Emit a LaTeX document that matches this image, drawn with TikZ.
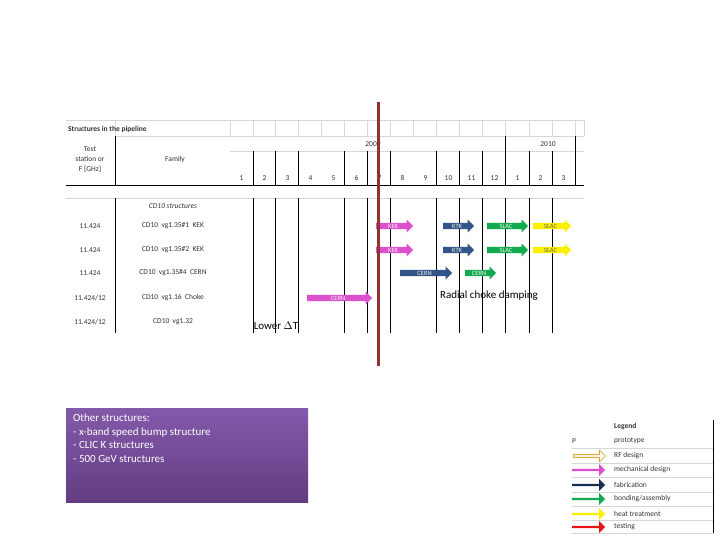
\documentclass[tikz,border=0pt]{standalone}
\usepackage{fontspec}
\setmainfont{Carlito}
\usetikzlibrary{shapes.arrows}
\definecolor{cpink}{RGB}{220,80,205}
\definecolor{cblue}{RGB}{50,85,135}
\definecolor{cnavy}{RGB}{25,45,85}
\definecolor{cgreen}{RGB}{20,170,80}
\definecolor{cyel}{RGB}{250,240,0}
\definecolor{cred}{RGB}{230,20,20}
\definecolor{corange}{RGB}{220,170,60}
\definecolor{cbar}{RGB}{145,50,50}
\definecolor{cgrid}{RGB}{215,215,215}
\begin{document}
\begin{tikzpicture}[x=1pt,y=-1pt,
  tt/.style={font=\fontsize{7.5}{8}\selectfont,text=black!80,inner sep=0pt},
  arr/.style={single arrow,single arrow head extend=3pt,minimum width=13pt,inner sep=0.5pt,
    font=\fontsize{6.5}{7}\selectfont,text=white!90!gray,anchor=west,single arrow head indent=0pt},
  lg/.style={font=\fontsize{7.5}{8}\selectfont,text=black!80,anchor=west,inner sep=0pt}]
\useasboundingbox (0,0) rectangle (720,540);
% header grid
\foreach \x in {115,230,253,275,298,321,344,367,390,413,436,459,482,505,529,552,575,584}
  \draw[cgrid] (\x,120) -- (\x,136);
\draw[cgrid] (66,120) -- (584,120);
\draw[cgrid] (115,136) -- (584,136);
\draw[cgrid] (66,198) -- (584,198);
\draw[cgrid] (230,151) -- (584,151);
\draw (115,136) -- (115,185);
\draw (505,136) -- (505,185);
\draw (575,136) -- (575,185);
\foreach \x in {253,275,298,344,367,390,436,459,482,529,552}
  \draw (\x,151) -- (\x,185);
\draw[thick] (66,185) -- (584,185);
\node[tt,font=\bfseries\fontsize{7.5}{8}\selectfont,anchor=west] (h0) at (68,129) {Structures in the pipeline};
\node[tt,align=center] (h1) at (90,160) {Test\\[2pt]station or\\[2pt]F [GHz]};
\node[tt] (h2) at (175,160) {Family};
\node[tt] (y1) at (373,144) {2009};
\node[tt] (y2) at (548,144) {2010};
\foreach \m [count=\i] in {1,2,3,4,5,6,7,8,9,10,11,12,1,2,3}
  \node[tt] at (230+23*\i-11.5,178) {\m};
% body grid
\draw (115,198) -- (115,333);
\foreach \x in {253,275,298,344,367,390,436,459,482,505,529,552}
  \draw (\x,198) -- (\x,333);
\node[tt,font=\itshape\fontsize{7.5}{8}\selectfont] (s0) at (173,206) {CD10 structures};
\node[tt] (a1) at (90,226) {11.424};
\node[tt] (a2) at (90,250) {11.424};
\node[tt] (a3) at (90,273) {11.424};
\node[tt] (a4) at (90,298) {11.424/12};
\node[tt] (a5) at (90,322) {11.424/12};
\node[tt] (b1) at (173,226) {CD10\ \ vg1.35\#1\ \ KEK};
\node[tt] (b2) at (173,250) {CD10\ \ vg1.35\#2\ \ KEK};
\node[tt] (b3) at (173,273) {CD10\ \ vg1.35\#4\ \ CERN};
\node[tt] (b4) at (173,298) {CD10\ \ vg1.16\ \ Choke};
\node[tt] (b5) at (173,322) {CD10\ \ vg1.32};
% arrows
\node[arr,fill=cpink,minimum height=37pt] (r1a) at (376,226) {KEK\hspace{14pt}};
\node[arr,fill=cblue,minimum height=31pt] (r1b) at (443,226) {KTK\hspace{6pt}};
\node[arr,fill=cgreen,minimum height=41pt] (r1c) at (487,226) {SLAC\hspace{8pt}};
\node[arr,fill=cyel,minimum height=38pt,text=black!60] (r1d) at (533,226) {SLAC\hspace{6pt}};
\node[arr,fill=cpink,minimum height=37pt] (r2a) at (376,250) {KEK\hspace{14pt}};
\node[arr,fill=cblue,minimum height=31pt] (r2b) at (443,250) {KTK\hspace{6pt}};
\node[arr,fill=cgreen,minimum height=41pt] (r2c) at (487,250) {SLAC\hspace{8pt}};
\node[arr,fill=cyel,minimum height=38pt,text=black!60] (r2d) at (533,250) {SLAC\hspace{6pt}};
\node[arr,fill=cblue,minimum height=52pt] (r3a) at (400,273) {CERN\hspace{6pt}};
\node[arr,fill=cgreen,minimum height=31pt] (r3b) at (465,273) {CERN\hspace{4pt}};
\node[arr,fill=cpink,minimum height=65pt] (r4a) at (307,298) {CERN\hspace{14pt}};
\node[font=\fontsize{11}{12}\selectfont,inner sep=0pt] (rc) at (489,296) {Radial choke damping};
\node[font=\fontsize{11}{12}\selectfont,inner sep=0pt] (lt) at (276,326) {Lower $\Delta$T};
% vertical bar
\draw[cbar,line width=3pt] (378,102) -- (378,366);
% purple box
\shade[top color={rgb,255:red,130;green,90;blue,170},bottom color={rgb,255:red,100;green,60;blue,130}]
  (66,408) rectangle (308,502);
\node[anchor=north west,align=left,text=white,font=\fontsize{11}{13.5}\selectfont,inner sep=0pt] (ob) at (73,414)
  {Other structures:\\- x-band speed bump structure\\- CLIC K structures\\- 500 GeV structures};
% legend
\draw (713,420) -- (713,533);
\foreach \y in {448,463,477,492,506,520,533}
  \draw[cgrid] (572,\y) -- (713,\y);
\node[lg,font=\bfseries\fontsize{7.5}{8}\selectfont] (l0) at (614,427) {Legend};
\node[lg] (lp) at (572,441) {P};
\node[lg] (l1) at (614,441) {prototype};
\node[lg] (l2) at (614,456) {RF design};
\node[lg] (l3) at (614,470) {mechanical design};
\node[lg] (l4) at (614,485) {fabrication};
\node[lg] (l5) at (614,499) {bonding/assembly};
\node[lg] (l6) at (614,514) {heat treatment};
\node[lg] (l7) at (614,527) {testing};
\node[arr,draw=corange,fill=white,thick,minimum height=32pt,minimum width=12pt] (g1) at (573,456) {};
\node[arr,fill=cpink,minimum height=33pt,minimum width=12pt] (g2) at (572,470) {};
\node[arr,fill=cnavy,minimum height=33pt,minimum width=12pt] (g3) at (572,485) {};
\node[arr,fill=cgreen,minimum height=33pt,minimum width=12pt] (g4) at (572,499) {};
\node[arr,fill=cyel,minimum height=33pt,minimum width=12pt] (g5) at (572,514) {};
\node[arr,fill=cred,minimum height=33pt,minimum width=12pt] (g6) at (572,527) {};
\end{tikzpicture}
\end{document}
